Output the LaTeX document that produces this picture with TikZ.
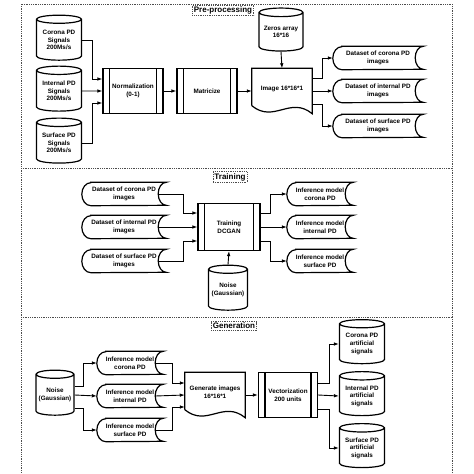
\documentclass[tikz,border=0pt]{standalone}
\usepackage{fontspec}
\setmainfont{Liberation Sans}
\usetikzlibrary{shapes.geometric,arrows.meta}

\tikzset{
  drum/.style={cylinder, shape border rotate=90, draw, line width=1.2pt, aspect=0.25,
    minimum width=#1, minimum height=45, inner sep=0pt},
  drum/.default=45,
  procbox/.style={draw, line width=1.2pt, minimum width=60, minimum height=45,
    path picture={\draw[line width=1.5pt]
      ([xshift=6.5pt]path picture bounding box.north west) -- ([xshift=6.5pt]path picture bounding box.south west)
      ([xshift=-6.5pt]path picture bounding box.north east) -- ([xshift=-6.5pt]path picture bounding box.south east);}},
  docbox/.style={minimum width=60, minimum height=45, text depth=5pt},
  storebox/.style={minimum width=#1, minimum height=23, inner sep=1pt},
  framebox/.style={draw=black!70, densely dotted, line width=0.8pt},
  tag/.style={framebox, fill=white, font=\fontsize{8}{9}\selectfont\bfseries, inner sep=1.5pt},
  arr/.style={-{Latex[length=5pt,width=3.6pt]}, line width=0.9pt}
}

% stored data outline round a node
\newcommand{\storeline}[1]{%
  \draw[line width=1.2pt] ([xshift=9pt]#1.north west) -- (#1.north east)
    arc[start angle=90, end angle=270, x radius=8pt, y radius=11.5pt]
    -- ([xshift=9pt]#1.south west)
    arc[start angle=270, end angle=90, x radius=9pt, y radius=11.5pt] -- cycle;}
% document outline round a node
\newcommand{\docline}[1]{%
  \draw[line width=1.2pt] ([yshift=8pt]#1.south west) -- (#1.north west) -- (#1.north east) -- (#1.south east)
    .. controls +(-22pt,18pt) and +(22pt,-18pt) .. ([yshift=8pt]#1.south west);}

\begin{document}
\begin{tikzpicture}[x=1pt, y=-1pt,
    every node/.append style={font=\fontsize{6.3}{7.6}\selectfont\bfseries, align=center}]
  \useasboundingbox (0,0) rectangle (474,474);

  % frame and sections
  \draw[framebox] (21,480) -- (21,4) -- (452,4) -- (452,480);
  \draw[framebox] (21,168) -- (452,168);
  \draw[framebox] (21,317) -- (452,317);
  \node[tag, anchor=north] (pretag) at (223,5) {Pre-processing};
  \node[tag] (traintag) at (230,177) {Training};
  \node[tag] (gentag) at (234,326) {Generation};

  % pre-processing
  \begin{scope}
    \node[drum] (corona) at (59,40) {Corona PD\\Signals\\200Ms/s};
    \node[drum] (internal) at (59,91) {Internal PD\\Signals\\200Ms/s};
    \node[drum] (surface) at (59,143) {Surface PD\\Signals\\200Ms/s};
    \node[procbox] (norm) at (133,91) {Normalization\\(0-1)};
    \node[procbox] (matr) at (207,91) {Matricize};
    \node[drum=44, minimum height=43] (zeros) at (281,32) {Zeros array\\16*16};
    \node[docbox] (image) at (282,91) {Image 16*16*1};
    \node[storebox=90] (dsA) at (378,58) {Dataset of corona PD\\images};
    \node[storebox=90] (dsB) at (378,91) {Dataset of internal PD\\images};
    \node[storebox=90] (dsC) at (378,126) {Dataset of surface PD\\images};
  \end{scope}
  \docline{image}
  \storeline{dsA}
  \storeline{dsB}
  \storeline{dsC}
  \begin{scope}[every path/.style={arr}]
    \draw (corona.east) -- ++(10,0) |- ([yshift=12pt]norm.west);
    \draw (internal.east) -- (norm.west);
    \draw (surface.east) -- ++(10,0) |- ([yshift=-12pt]norm.west);
    \draw (norm) -- (matr);
    \draw (matr) -- (image.west);
    \draw (zeros.south) -- (image.north);
    \draw ([yshift=13pt]image.east) -- ++(10,0) |- (dsA.west);
    \draw (image.east) -- (dsB.west);
    \draw ([yshift=-13pt]image.east) -- ++(10,0) |- (dsC.west);
  \end{scope}

  % training
  \begin{scope}
    \node[storebox=84] (tdA) at (124,194) {Dataset of corona PD\\images};
    \node[storebox=84] (tdB) at (124,227) {Dataset of internal  PD\\images};
    \node[storebox=84] (tdC) at (124,261) {Dataset of surface PD\\images};
    \node[procbox, minimum width=62, minimum height=47] (train) at (229,227) {Training\\DCGAN};
    \node[drum=39] (noiseA) at (228,290) {Noise\\(Gaussian)};
    \node[storebox=66] (infA) at (320,194) {Inference model\\corona PD};
    \node[storebox=66] (infB) at (320,227) {Inference model\\internal PD};
    \node[storebox=66] (infC) at (320,261) {Inference model\\surface PD};
  \end{scope}
  \storeline{tdA}
  \storeline{tdB}
  \storeline{tdC}
  \storeline{infA}
  \storeline{infB}
  \storeline{infC}
  \begin{scope}[every path/.style={arr}]
    \draw ([xshift=-8pt]tdA.east) -- ++(25,0) |- ([yshift=14pt]train.west);
    \draw ([xshift=-8pt]tdB.east) -- (train.west);
    \draw ([xshift=-8pt]tdC.east) -- ++(25,0) |- ([yshift=-14pt]train.west);
    \draw ([yshift=14pt]train.east) -- ++(10,0) |- (infA.west);
    \draw (train.east) -- (infB.west);
    \draw ([yshift=-14pt]train.east) -- ++(10,0) |- (infC.west);
    \draw (noiseA.north) -- (train.south);
  \end{scope}

  % generation
  \begin{scope}
    \node[drum=38] (noiseB) at (55,395) {Noise\\(Gaussian)};
    \node[storebox=66] (ginfA) at (130,363) {Inference model\\corona PD};
    \node[storebox=66] (ginfB) at (130,396) {Inference model\\internal PD};
    \node[storebox=66] (ginfC) at (130,430) {Inference model\\surface PD};
    \node[docbox] (gen) at (215,395) {Generate images\\16*16*1};
    \node[procbox, minimum width=59] (vect) at (288,395) {Vectorization\\200 units};
    \node[drum, minimum height=44] (outA) at (362,344) {Corona PD\\artificial\\signals};
    \node[drum, minimum height=44] (outB) at (362,396) {Internal PD\\artificial\\signals};
    \node[drum, minimum height=44] (outC) at (362,448) {Surface PD\\artificial\\signals};
  \end{scope}
  \docline{gen}
  \storeline{ginfA}
  \storeline{ginfB}
  \storeline{ginfC}
  \begin{scope}[every path/.style={arr}]
    \draw ([yshift=9pt]noiseB.east) -- ++(9,0) |- (ginfA.west);
    \draw (noiseB.east) -- (ginfB.west);
    \draw ([yshift=-13pt]noiseB.east) -- ++(9,0) |- (ginfC.west);
    \draw ([xshift=-8pt]ginfA.east) -- ++(17,0) |- ([yshift=12pt]gen.west);
    \draw ([xshift=-8pt]ginfB.east) -- (gen.west);
    \draw ([xshift=-8pt]ginfC.east) -- ++(17,0) |- ([yshift=-12pt]gen.west);
    \draw (gen) -- (vect);
    \draw ([yshift=12pt]vect.east) -- ++(11,0) |- (outA.west);
    \draw (vect.east) -- (outB.west);
    \draw ([yshift=-14pt]vect.east) -- ++(11,0) |- (outC.west);
  \end{scope}
\end{tikzpicture}
\end{document}
